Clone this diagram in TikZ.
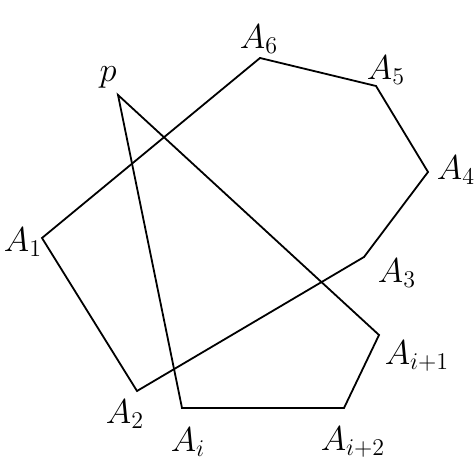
\documentclass[tikz,border=0pt]{standalone}
\begin{document}
\begin{tikzpicture}[x=0.5pt,y=-0.5pt,
  edge/.style={line width=0.9pt,line join=miter},
  lbl/.style={inner sep=0pt,font=\fontsize{16.5}{19}\selectfont}]
\useasboundingbox (0,0) rectangle (474,474);
% vertices
\coordinate (A1) at (42,238);
\coordinate (A2) at (137,391);
\coordinate (A3) at (364,257);
\coordinate (A4) at (428,172);
\coordinate (A5) at (376,86);
\coordinate (A6) at (260,58);
\coordinate (P) at (118,95);
\coordinate (Ai) at (182,408);
\coordinate (Ai2) at (344,408);
\coordinate (Ai1) at (379,335);
% polygons
\draw[edge] (A1) -- (A2) -- (A3) -- (A4) -- (A5) -- (A6) -- cycle;
\draw[edge] (P) -- (Ai) -- (Ai2) -- (Ai1) -- cycle;
% labels
\node[lbl] (lA1) at (23,242) {$A_1$};
\node[lbl] (lA2) at (125,414) {$A_2$};
\node[lbl] (lA3) at (397,273) {$A_3$};
\node[lbl] (lA4) at (456,170) {$A_4$};
\node[lbl] (lA5) at (386,70) {$A_5$};
\node[lbl] (lA6) at (259,39) {$A_6$};
\node[lbl] (lP) at (108,77) {$p$};
\node[lbl] (lAi) at (188,442) {$A_i$};
\node[lbl] (lAi1) at (417,356) {$A_{i+1}$};
\node[lbl] (lAi2) at (353,442) {$A_{i+2}$};
\end{tikzpicture}
\end{document}
